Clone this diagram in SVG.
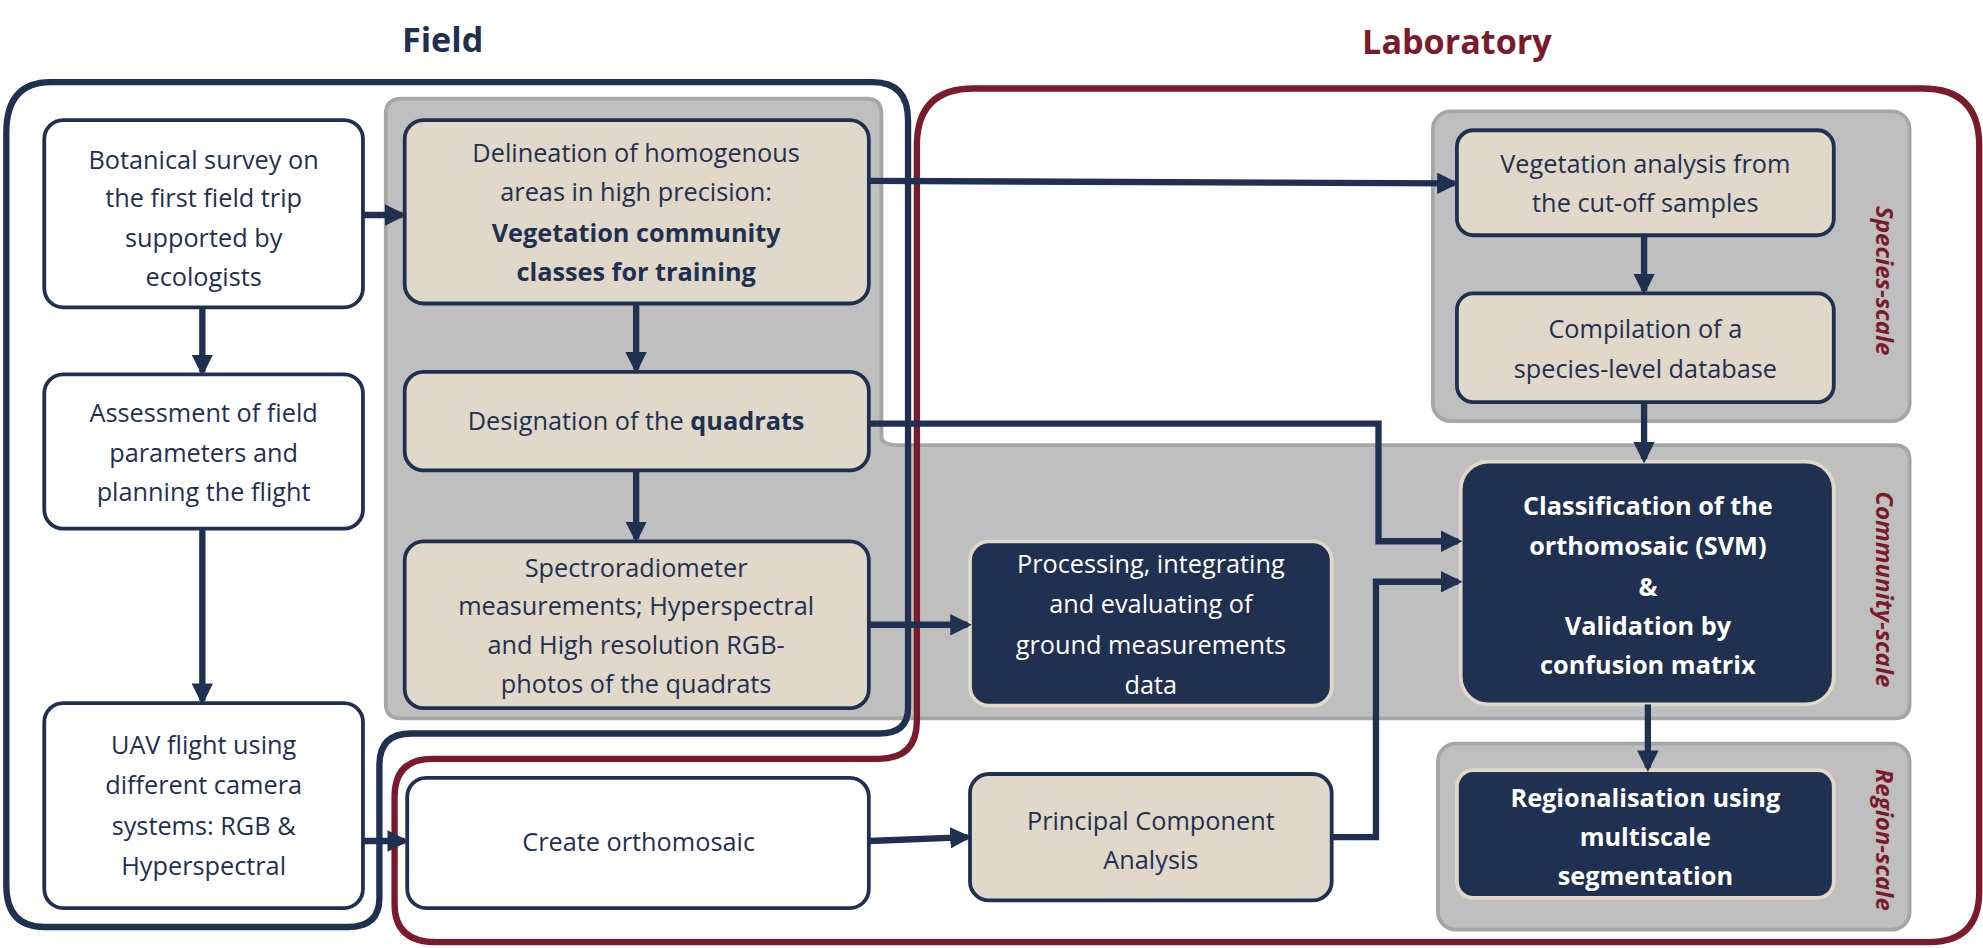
<svg xmlns="http://www.w3.org/2000/svg" width="1983" height="948" viewBox="0 0 1983 948">
<style>
.t{font-family:"Open Sans","DejaVu Sans",sans-serif;font-size:20px;fill:#1f3050;text-anchor:middle}
.w{fill:#fff;font-weight:bold}
.b{font-weight:bold}
.n{fill:#fff;stroke:#1f3050;stroke-width:3}
.g{fill:#e0d8c8;stroke:#1f3050;stroke-width:3}
.d{fill:#1f3050;stroke:#e0d8c8;stroke-width:3}
.p{fill:#bfbfbf;stroke:#a6a6a6;stroke-width:3}
.s{font-family:"Open Sans","DejaVu Sans",sans-serif;font-size:19px;font-weight:bold;font-style:italic;fill:#7a1a2a;text-anchor:middle}
.c{fill:none;stroke:#1f3050;stroke-width:5}
</style>
<defs><marker id="a" viewBox="0 0 10 10" refX="8" refY="5" markerWidth="3.4" markerHeight="3.4" orient="auto"><path d="M0,0L10,5L0,10z" fill="#1f3050"/></marker></defs>
<rect width="1983" height="948" fill="#fff"/>
<g transform="scale(1.26467)">
<text x="350" y="41" class="t b" style="font-size:27px">Field</text>
<text x="1152" y="43" class="t b" style="font-size:27px;fill:#7a1a2a">Laboratory</text>
<g id="panels">
<path class="p" d="M318,78H685Q697,78 697,90V345Q697,352 710,352H1498Q1510,352 1510,364V556Q1510,568 1498,568H317Q305,568 305,556V90Q305,78 318,78Z"/>
<rect class="p" x="1133" y="88" width="377" height="245" rx="14"/>
<rect class="p" x="1137" y="588" width="373" height="147" rx="14"/>
</g>
<path id="fieldOutline" d="M40,65H690Q718,65 718,95V560Q718,580 695,580H325Q300,580 300,605V710Q300,733 275,733H35Q5,733 5,700V105Q5,65 40,65Z" fill="none" stroke="#1f3050" stroke-width="5"/>
<path id="labOutline" d="M770,70H1520Q1565,70 1565,115V705Q1565,745 1525,745H345Q312,745 312,715V630Q312,600 342,600H695Q725,600 725,570V115Q725,70 770,70Z" fill="none" stroke="#7a1a2a" stroke-width="5"/>
<g id="n1"><rect class="n" x="35" y="95" width="252" height="148" rx="15"/><text class="t" x="161" y="134">Botanical survey on</text><text class="t" x="161" y="164">the first field trip</text><text class="t" x="161" y="195">supported by</text><text class="t" x="161" y="226">ecologists</text></g>
<g id="n2"><rect class="n" x="35" y="296" width="252" height="122" rx="15"/><text class="t" x="161" y="334">Assessment of field</text><text class="t" x="161" y="365">parameters and</text><text class="t" x="161" y="396">planning the flight</text></g>
<g id="n3"><rect class="n" x="35" y="556" width="252" height="162" rx="15"/><text class="t" x="161" y="596">UAV flight using</text><text class="t" x="161" y="628">different camera</text><text class="t" x="161" y="660">systems: RGB &amp;</text><text class="t" x="161" y="692">Hyperspectral</text></g>
<g id="d1"><rect class="g" x="320" y="95" width="367" height="145" rx="15"/><text class="t" x="503" y="128">Delineation of homogenous</text><text class="t" x="503" y="159">areas in high precision:</text><text class="t b" x="503" y="191">Vegetation community</text><text class="t b" x="503" y="222">classes for training</text></g>
<g id="d2"><rect class="g" x="320" y="294" width="367" height="78" rx="15"/><text class="t" x="503" y="340">Designation of the <tspan class="b">quadrats</tspan></text></g>
<g id="d3"><rect class="g" x="320" y="428" width="367" height="132" rx="15"/><text class="t" x="503" y="456">Spectroradiometer</text><text class="t" x="503" y="486">measurements; Hyperspectral</text><text class="t" x="503" y="517">and High resolution RGB-</text><text class="t" x="503" y="548">photos of the quadrats</text></g>
<g id="ortho"><rect class="n" x="322" y="615" width="365" height="103" rx="15"/><text class="t" x="505" y="673">Create orthomosaic</text></g>
<g id="pca"><rect class="g" x="767" y="612" width="286" height="100" rx="15"/><text class="t" x="910" y="656">Principal Component</text><text class="t" x="910" y="687">Analysis</text></g>
<g id="proc"><rect class="d" x="767" y="428" width="286" height="130" rx="15"/><text class="t" style="fill:#fff" x="910" y="453">Processing, integrating</text><text class="t" style="fill:#fff" x="910" y="485">and evaluating of</text><text class="t" style="fill:#fff" x="910" y="517">ground measurements</text><text class="t" style="fill:#fff" x="910" y="549">data</text></g>
<g id="veg"><rect class="g" x="1152" y="103" width="298" height="83" rx="13"/><text class="t" x="1301" y="137">Vegetation analysis from</text><text class="t" x="1301" y="168">the cut-off samples</text></g>
<g id="comp"><rect class="g" x="1152" y="232" width="298" height="86" rx="13"/><text class="t" x="1301" y="267">Compilation of a</text><text class="t" x="1301" y="299">species-level database</text></g>
<g id="cls"><rect class="d" x="1155" y="365" width="295" height="192" rx="22"/><text class="t w" x="1303" y="407">Classification of the</text><text class="t w" x="1303" y="439">orthomosaic (SVM)</text><text class="t w" x="1303" y="471">&amp;</text><text class="t w" x="1303" y="502">Validation by</text><text class="t w" x="1303" y="533">confusion matrix</text></g>
<g id="reg"><rect class="d" x="1152" y="609" width="298" height="101" rx="13"/><text class="t w" x="1301" y="638">Regionalisation using</text><text class="t w" x="1301" y="669">multiscale</text><text class="t w" x="1301" y="700">segmentation</text></g>
<text class="s" transform="translate(1483,222) rotate(90)">Species-scale</text>
<text class="s" transform="translate(1483,466) rotate(90)">Community-scale</text>
<text class="s" transform="translate(1483,664) rotate(90)">Region-scale</text>
<g id="connectors" class="c" marker-end="url(#a)">
<path class="c" marker-end="url(#a)" d="M287,170H318"/>
<path class="c" marker-end="url(#a)" d="M160,243V294"/>
<path class="c" marker-end="url(#a)" d="M160,418V554"/>
<path class="c" marker-end="url(#a)" d="M287,665H320"/>
<path class="c" marker-end="url(#a)" d="M503,240V292"/>
<path class="c" marker-end="url(#a)" d="M503,372V426"/>
<path class="c" marker-end="url(#a)" d="M687,143L1150,145"/>
<path class="c" marker-end="url(#a)" d="M687,335H1090V428H1153"/>
<path class="c" marker-end="url(#a)" d="M687,494H765"/>
<path class="c" marker-end="url(#a)" d="M1300,186V230"/>
<path class="c" marker-end="url(#a)" d="M1300,318V363"/>
<path class="c" marker-end="url(#a)" d="M687,665L765,662"/>
<path class="c" marker-end="url(#a)" d="M1053,662H1088V460H1153"/>
<path class="c" marker-end="url(#a)" d="M1303,557V607"/>
</g>
</g>
</svg>
